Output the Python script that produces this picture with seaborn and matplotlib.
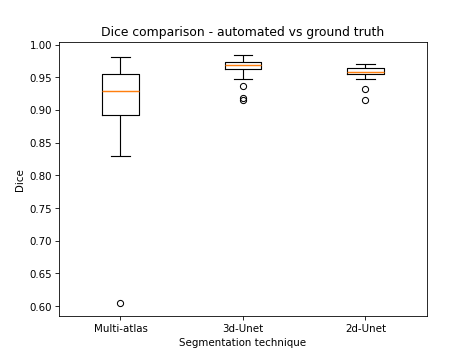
import numpy as np
import pandas as pd
import seaborn as sns
import matplotlib
matplotlib.use("Agg")
import matplotlib.pyplot as plt

# dice scores (quartiles / whiskers / outliers)
techniques = ["Multi-atlas", "3d-Unet", "2d-Unet"]
multi_atlas = [0.604, 0.830, 0.8916, 0.910, 0.9295, 0.940, 0.9545, 0.965, 0.9805]
unet_3d = [0.9155, 0.919, 0.9367, 0.948, 0.962, 0.964, 0.966, 0.968, 0.969,
           0.970, 0.971, 0.972, 0.9735, 0.976, 0.979, 0.982, 0.9847]
unet_2d = [0.9157, 0.932, 0.948, 0.955, 0.956, 0.957, 0.9586, 0.960, 0.962,
           0.9637, 0.966, 0.968, 0.970]

df = pd.DataFrame({
    "technique": [techniques[0]] * len(multi_atlas) + [techniques[1]] * len(unet_3d)
                 + [techniques[2]] * len(unet_2d),
    "dice": multi_atlas + unet_3d + unet_2d,
})

fig, ax = plt.subplots(figsize=(6.4, 4.8), dpi=74.07)
sns.boxplot(x="technique", y="dice", data=df, ax=ax, order=techniques,
            width=0.3, fill=False, color="black", linewidth=1.1,
            medianprops=dict(color="#ff7f0e", linewidth=1.4),
            flierprops=dict(marker="o", markerfacecolor="none",
                            markeredgecolor="black", markersize=6))

# make sure the medians stay orange
medians = {t: np.median(v) for t, v in zip(techniques, [multi_atlas, unet_3d, unet_2d])}
for line in ax.lines:
    y = np.asarray(line.get_ydata(), dtype=float)
    if len(y) == 2 and y[0] == y[1] and any(np.isclose(y[0], m) for m in medians.values()):
        line.set_color("#ff7f0e")

ax.set_title("Dice comparison - automated vs ground truth")
ax.set_xlabel("Segmentation technique")
ax.set_ylabel("Dice")
fig.savefig("out.png", dpi=74.07)
